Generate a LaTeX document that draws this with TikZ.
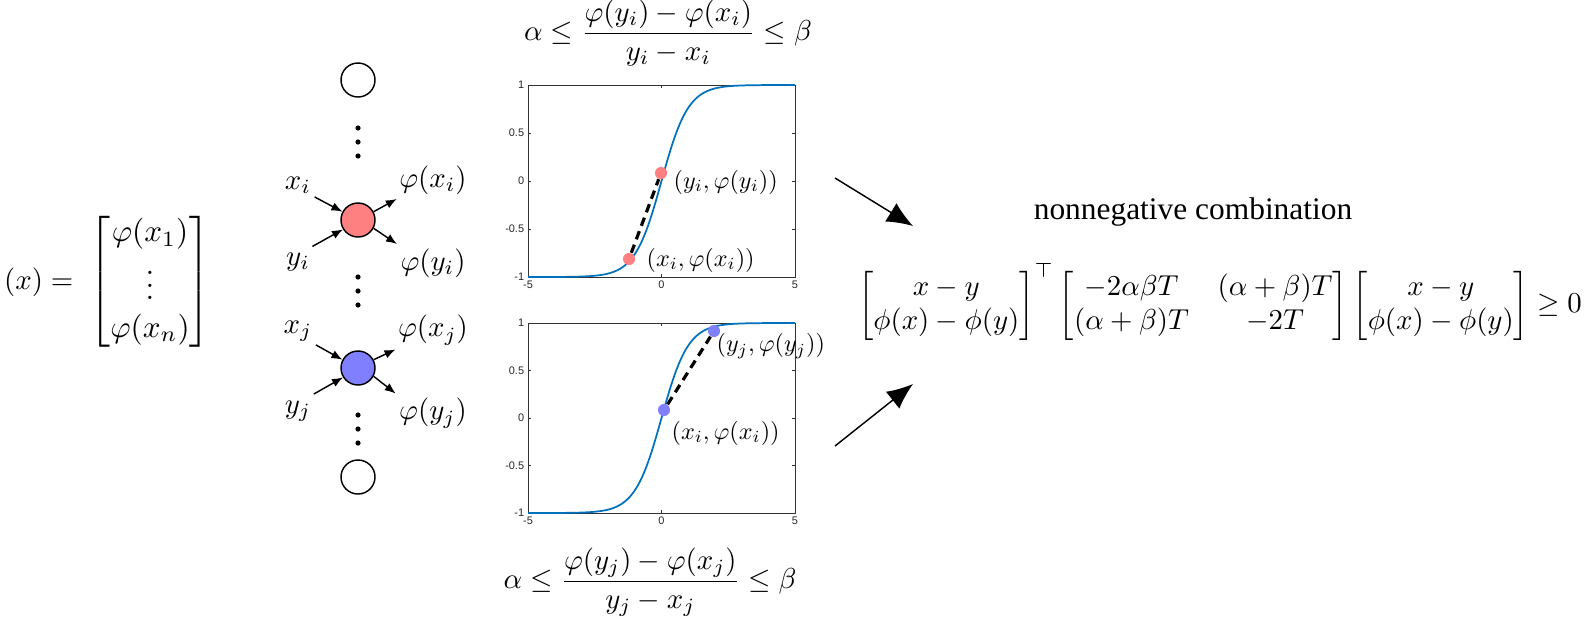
\documentclass[tikz,border=0pt]{standalone}
\usepackage{amsmath,amssymb}
\usepackage{fontspec}
\newfontfamily\tnr{Liberation Serif}
\newfontfamily\hlv{Liberation Sans}
\usetikzlibrary{arrows.meta}
\definecolor{plotblue}{rgb}{0,0.447,0.741}
\definecolor{pred}{rgb}{1,0.5,0.5}
\definecolor{pblue}{rgb}{0.5,0.5,1}
\begin{document}
\begin{tikzpicture}[x=0.347pt,y=-0.347pt,
  neuron/.style={circle,draw,line width=0.5pt,minimum size=11.8pt,inner sep=0pt},
  arr/.style={-{Latex[length=3.8pt,width=3pt]},line width=0.5pt},
  bigarr/.style={-{Latex[length=9pt,width=7.5pt]},line width=0.5pt},
  dpt/.style={circle,inner sep=0pt,minimum size=4.2pt},
  ticklbl/.style={font=\hlv\fontsize{3.8}{4}\selectfont,inner sep=0.8pt,text=black!85},
  lbl/.style={inner sep=0pt},
  axbox/.style={draw=black!80,line width=0.35pt},
  curve/.style={draw=plotblue,line width=0.6pt},
  chord/.style={line width=1.1pt,dash pattern=on 3pt off 2pt},
]
\useasboundingbox (0,0) rectangle (1584,622);

% left vector
\node[lbl,anchor=east] (lhs) at (74,282) {$(x) =$};
\node[lbl,anchor=west] (vec) at (89,282) {\scalebox{1.08}{$\begin{bmatrix}\varphi(x_1)\\ \vdots\\ \varphi(x_n)\end{bmatrix}$}};

% network
\node[neuron] (top) at (358,80) {};
\node[neuron,fill=pred] (red) at (358,220) {};
\node[neuron,fill=pblue] (blue) at (358,368) {};
\node[neuron] (bot) at (358,477) {};
\foreach \yy in {128,142,156, 277,291,305, 415,429,443}
  \fill (358,\yy) circle (0.9pt);

\node[lbl] (xi) at (298,185) {$x_i$};
\node[lbl] (yi) at (298,262) {$y_i$};
\node[lbl] (pxi) at (433,180) {$\varphi(x_i)$};
\node[lbl] (pyi) at (433,263) {$\varphi(y_i)$};
\node[lbl] (xj) at (298,331) {$x_j$};
\node[lbl] (yj) at (298,411) {$y_j$};
\node[lbl] (pxj) at (433,330) {$\varphi(x_j)$};
\node[lbl] (pyj) at (433,413) {$\varphi(y_j)$};

\draw[arr] ([shift={(3,3)}]xi.south east) -- (red.152);
\draw[arr] ([shift={(2,-6)}]yi.north east) -- (red.212);
\draw[arr] (red.28) -- ([shift={(-2,4)}]pxi.south west);
\draw[arr] (red.-28) -- ([shift={(-3,-4)}]pyi.north west);
\draw[arr] ([shift={(3,3)}]xj.south east) -- (blue.152);
\draw[arr] ([shift={(2,-6)}]yj.north east) -- (blue.212);
\draw[arr] (blue.28) -- ([shift={(-2,4)}]pxj.south west);
\draw[arr] (blue.-28) -- ([shift={(-3,-4)}]pyj.north west);

% top plot
\draw[axbox] (528,85) rectangle (795,277);
\foreach \v/\t in {1/1,0.5/0.5,0/0,-0.5/-0.5,-1/-1}{
  \draw[axbox] (528,181-96*\v) -- ++(3,0);
  \draw[axbox] (795,181-96*\v) -- ++(-3,0);
  \node[ticklbl,anchor=east] at (527,181-96*\v) {\t};
}
\foreach \v/\t in {-5/-5,0/0,5/5}{
  \draw[axbox] ({528+(\v+5)*26.7},277) -- ++(0,-3);
  \draw[axbox] ({528+(\v+5)*26.7},85) -- ++(0,3);
  \node[ticklbl,anchor=north] at ({528+(\v+5)*26.7},278) {\t};
}
\draw[curve] plot[domain=-5:5,samples=120,smooth] ({528+(\x+5)*26.7},{181-96*tanh(\x)});
\node[dpt,fill=pred] (p1) at (629,259) {};
\node[dpt,fill=pred] (p2) at (661,173) {};
\draw[chord] (p1) -- (p2);
\node[lbl,anchor=west] (lp2) at (673,182) {\scalebox{0.84}{$(y_i,\varphi(y_i))$}};
\node[lbl,anchor=west] (lp1) at (646,260) {\scalebox{0.84}{$(x_i,\varphi(x_i))$}};

% bottom plot
\draw[axbox] (528,323) rectangle (795,513);
\foreach \v/\t in {1/1,0.5/0.5,0/0,-0.5/-0.5,-1/-1}{
  \draw[axbox] (528,418-95*\v) -- ++(3,0);
  \draw[axbox] (795,418-95*\v) -- ++(-3,0);
  \node[ticklbl,anchor=east] at (527,418-95*\v) {\t};
}
\foreach \v/\t in {-5/-5,0/0,5/5}{
  \draw[axbox] ({528+(\v+5)*26.7},513) -- ++(0,-3);
  \draw[axbox] ({528+(\v+5)*26.7},323) -- ++(0,3);
  \node[ticklbl,anchor=north] at ({528+(\v+5)*26.7},514) {\t};
}
\draw[curve] plot[domain=-5:5,samples=120,smooth] ({528+(\x+5)*26.7},{418-95*tanh(\x)});
\node[dpt,fill=pblue] (q1) at (664,410) {};
\node[dpt,fill=pblue] (q2) at (714,331) {};
\draw[chord] (q1) -- (q2);
\node[lbl,anchor=west] (lq2) at (716,346) {\scalebox{0.84}{$(y_j,\varphi(y_j))$}};
\node[lbl,anchor=west] (lq1) at (671,433) {\scalebox{0.84}{$(x_i,\varphi(x_i))$}};

% formulas above and below
\node[lbl] (ftop) at (668,33) {$\displaystyle \alpha \leq \frac{\varphi(y_i)-\varphi(x_i)}{y_i-x_i} \leq \beta$};
\node[lbl] (fbot) at (650,582) {$\displaystyle \alpha \leq \frac{\varphi(y_j)-\varphi(x_j)}{y_j-x_j} \leq \beta$};

% combination
\node[lbl] (comb) at (1193,212) {\fontsize{10.9}{13}\tnr nonnegative combination};
\node[lbl] (ineq) at (1220,302) {$\begin{bmatrix} x-y\\ \phi(x)-\phi(y)\end{bmatrix}^{\top}
 \begin{bmatrix} -2\alpha\beta T & (\alpha+\beta)T\\ (\alpha+\beta)T & -2T\end{bmatrix}
 \begin{bmatrix} x-y\\ \phi(x)-\phi(y)\end{bmatrix} \geq 0$};

\coordinate (a1s) at (835,178);
\coordinate (a1e) at (913,226);
\coordinate (a2s) at (835,446);
\coordinate (a2e) at (913,384);
\draw[bigarr] (a1s) -- (a1e);
\draw[bigarr] (a2s) -- (a2e);
\end{tikzpicture}
\end{document}
